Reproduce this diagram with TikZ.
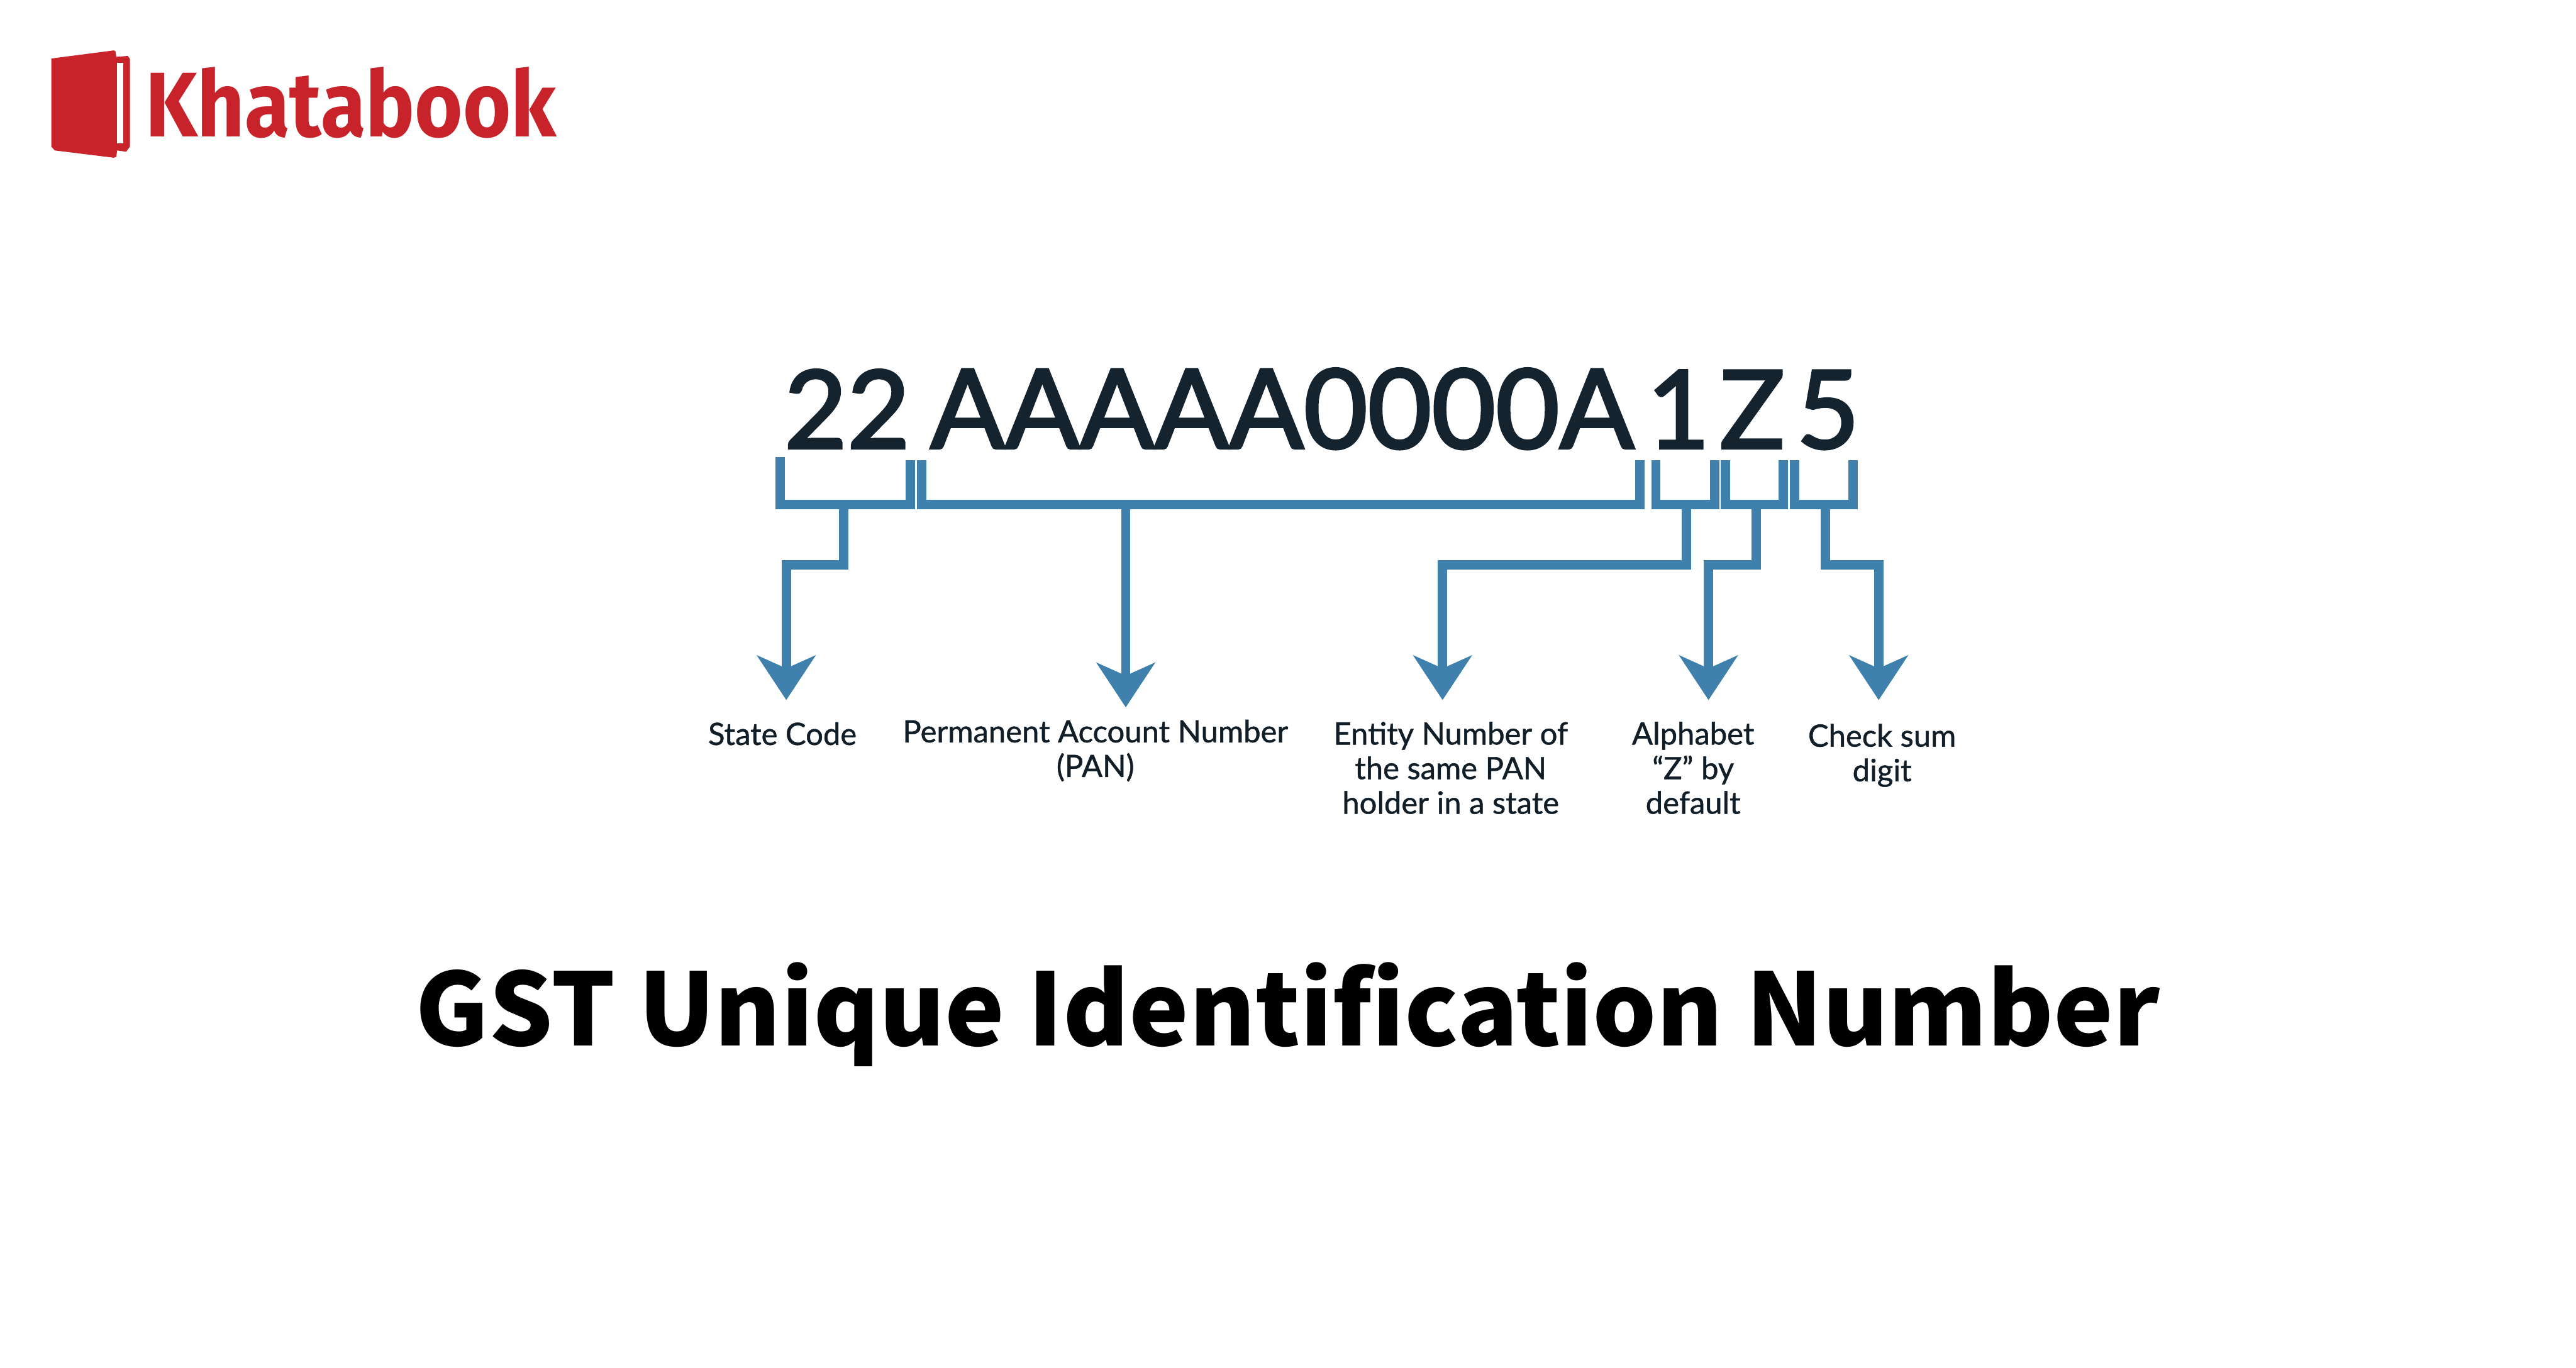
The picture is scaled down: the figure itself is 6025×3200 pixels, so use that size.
\documentclass[tikz,border=0pt]{standalone}
\usepackage{fontspec}
\usepackage{xcolor}
\usepackage{tikz}
\usetikzlibrary{arrows.meta, positioning}
\setmainfont{Lato}
\newfontfamily\codefont[FakeBold=2.4]{Lato}
\newfontfamily\labelfont[FakeBold=1]{Lato}
\newfontfamily\titlefont{Noto Sans CJK SC}
\newfontfamily\logofont{Fira Sans}
\definecolor{logored}{HTML}{C8232A}
\definecolor{codeink}{HTML}{14232E}
\definecolor{linkblue}{HTML}{3F80AD}
\tikzset{
	bracket/.style={draw=linkblue, line width=2.2pt},
	pointer/.style={draw=linkblue, line width=2.2pt, -{Stealth[length=10.4pt, width=13.6pt, inset=3pt]}},
	codetext/.style={inner sep=0pt, anchor=base west, text=codeink, font=\codefont\fontsize{25.4}{30}\selectfont},
	labeltext/.style={inner sep=0pt, anchor=base, align=center, text=codeink!85!black, font=\labelfont\fontsize{7.2}{8.1}\selectfont}
}
\begin{document}
\begin{tikzpicture}[x=0.1pt, y=-0.1pt]
	\useasboundingbox (0,0) rectangle (6025,3200);

	\fill [logored] (120,137) -- (266,118) -- (270,120) -- (272,133) -- (299,131) -- (304,138) -- (304,343) -- (295,355) -- (274,352) -- (272,367) -- (266,369) -- (128,352) -- (120,343) -- cycle;
	\fill [white] (274,147) rectangle (288,335);
	\node (logo) [inner sep=0pt, anchor=base west, transform shape, xscale=0.895, text=logored] at (338,320) {\logofont\bfseries\fontsize{21.5}{24}\selectfont Khatabook};

	\node (code22) [codetext] at (1832,1049) {22};
	\node (codepan) [codetext, font=\codefont\fontsize{25.8}{30}\selectfont] at (2174,1049) {AAAAA0000A};
	\node (codeone) [codetext] at (3850,1049) {1};
	\node (codez) [codetext] at (4020,1049) {Z};
	\node (codefive) [codetext] at (4200,1049) {5};

	\coordinate (a1) at (1825,1069);
	\coordinate (c1) at (2129,1180);
	\coordinate (b1) at (2129,1077);
	\coordinate (a2) at (2156,1077);
	\coordinate (c2) at (3835,1180);
	\coordinate (b2) at (3835,1077);
	\coordinate (a3) at (3873,1077);
	\coordinate (c3) at (4011,1180);
	\coordinate (b3) at (4011,1077);
	\coordinate (a4) at (4036,1077);
	\coordinate (c4) at (4171,1180);
	\coordinate (b4) at (4171,1077);
	\coordinate (a5) at (4198,1077);
	\coordinate (c5) at (4334,1180);
	\coordinate (b5) at (4334,1077);

	\draw [bracket] (a1) |- (c1) -- (b1);
	\draw [bracket] (a2) |- (c2) -- (b2);
	\draw [bracket] (a3) |- (c3) -- (b3);
	\draw [bracket] (a4) |- (c4) -- (b4);
	\draw [bracket] (a5) |- (c5) -- (b5);

	\coordinate (s1) at (1973,1180);
	\coordinate (t1) at (1839,1322);
	\coordinate (e1) at (1839,1638);
	\coordinate (s2) at (2633,1180);
	\coordinate (e2) at (2633,1655);
	\coordinate (s3) at (3944,1180);
	\coordinate (t3) at (3374,1322);
	\coordinate (e3) at (3374,1638);
	\coordinate (s4) at (4108,1180);
	\coordinate (t4) at (3996,1322);
	\coordinate (e4) at (3996,1638);
	\coordinate (s5) at (4269,1180);
	\coordinate (t5) at (4394,1322);
	\coordinate (e5) at (4394,1638);

	\draw [pointer] (s1) |- (t1) -- (e1);
	\draw [pointer] (s2) -- (e2);
	\draw [pointer] (s3) |- (t3) -- (e3);
	\draw [pointer] (s4) |- (t4) -- (e4);
	\draw [pointer] (s5) |- (t5) -- (e5);

	\node (state) [labeltext] at (1830,1743) {State Code};
	\node (pan) [labeltext] at (2562,1818) {Permanent Account Number\\(PAN)};
	\node (entity) [labeltext] at (3393,1904) {Entity Number of\\the same PAN\\holder in a state};
	\node (alpha) [labeltext] at (3960,1904) {Alphabet\\“Z” by\\default};
	\node (check) [labeltext] at (4402,1828) {Check sum\\digit};

	\node (title) [inner sep=0pt, anchor=base, text=black] at (3012,2447) {\titlefont\bfseries\fontsize{23.5}{28}\selectfont GST Unique Identification Number};
\end{tikzpicture}
\end{document}
